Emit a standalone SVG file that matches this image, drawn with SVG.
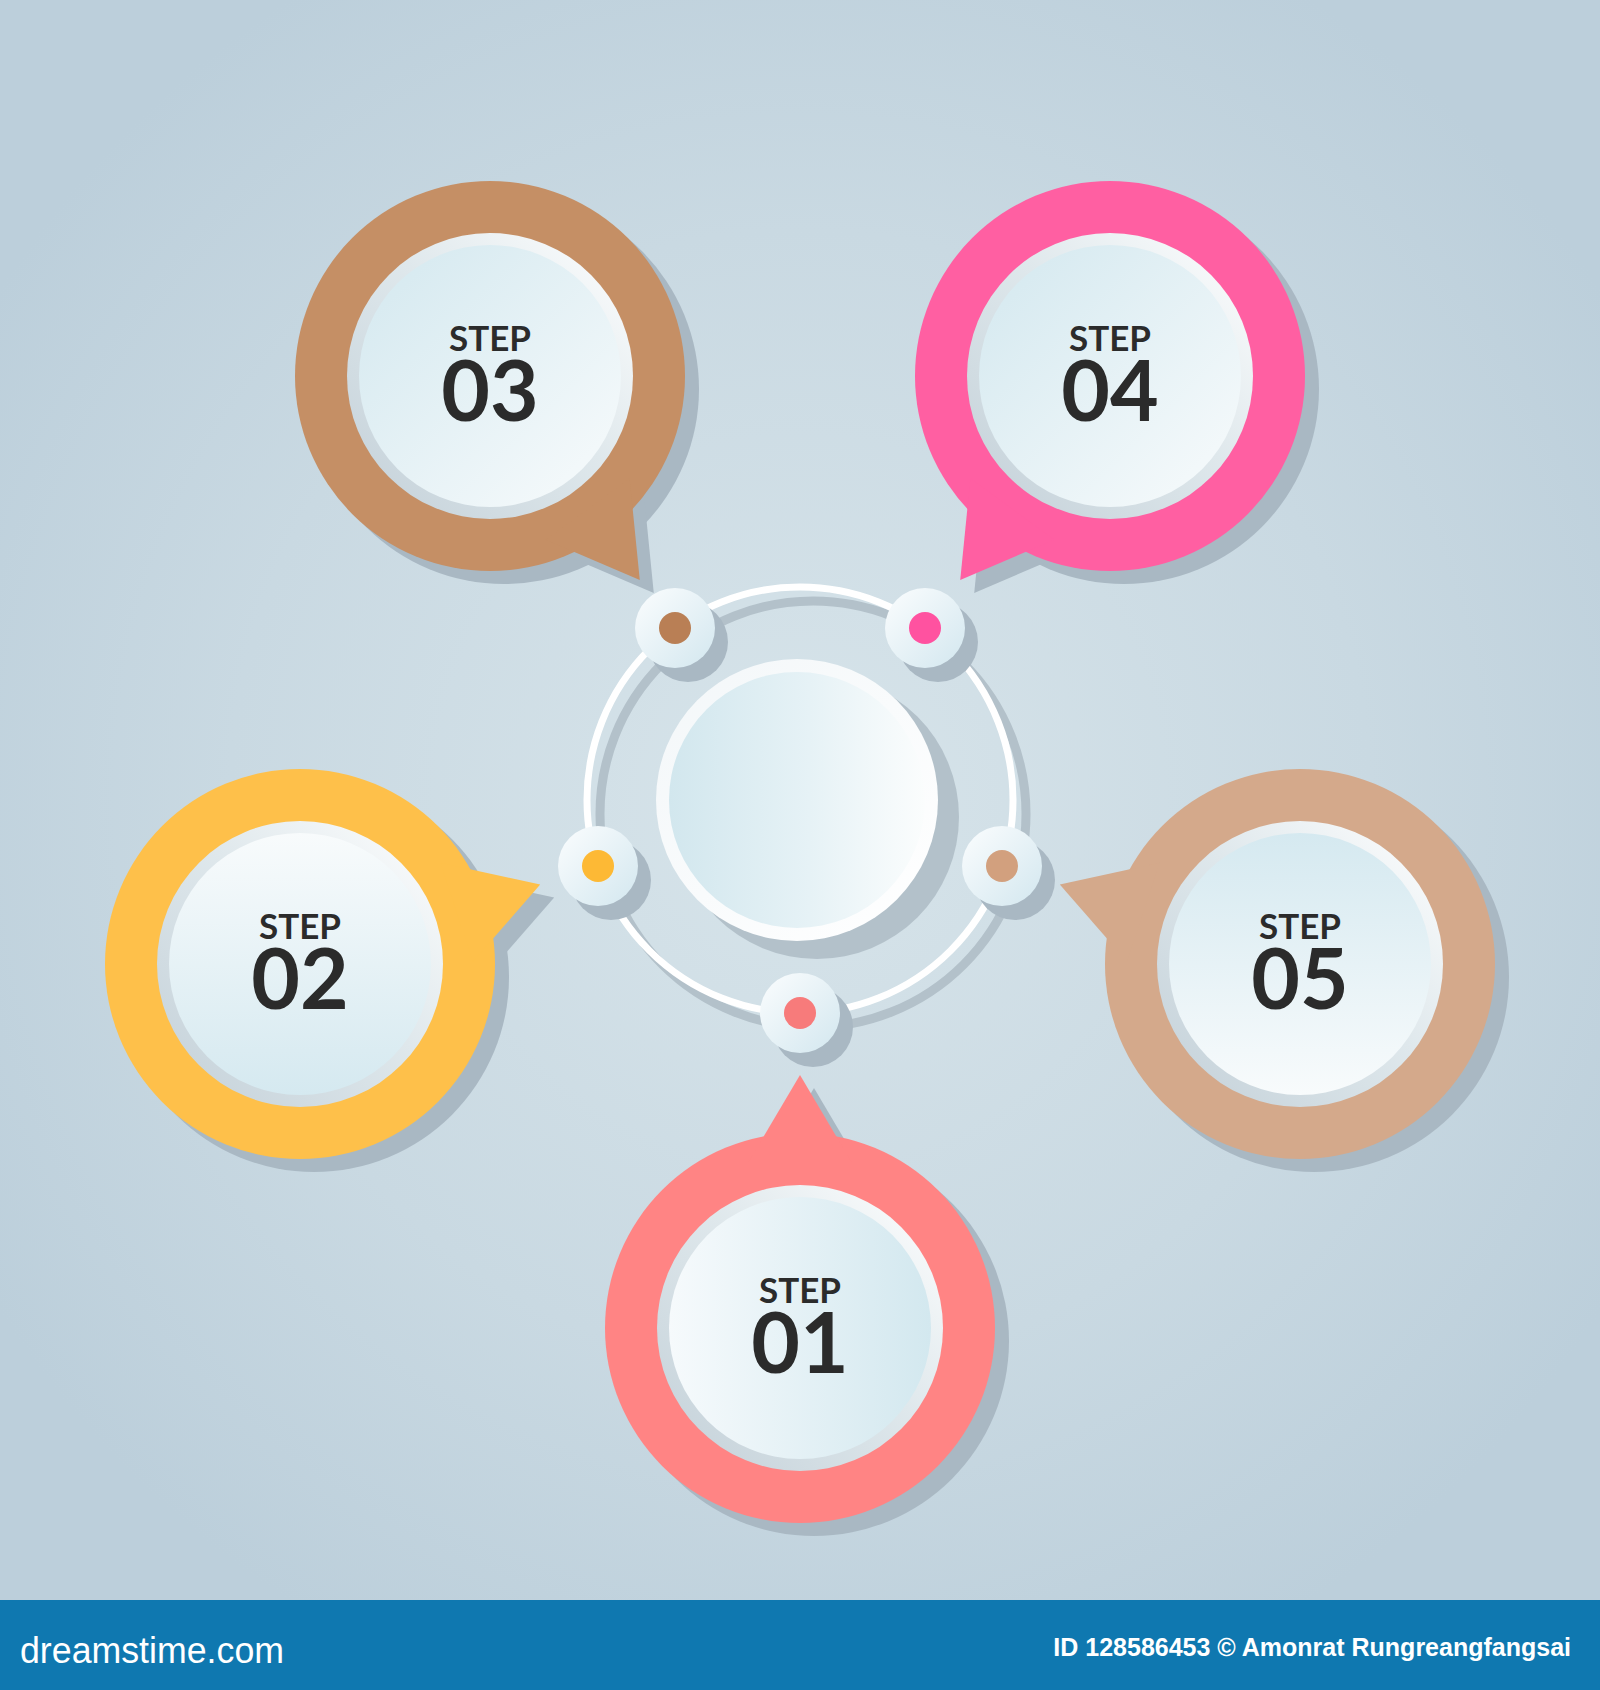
<svg xmlns="http://www.w3.org/2000/svg" width="1600" height="1690" viewBox="0 0 1600 1690">
  <defs>
    <radialGradient id="bg" cx="800" cy="800" r="950" gradientUnits="userSpaceOnUse">
      <stop offset="0" stop-color="#d7e4ea"/>
      <stop offset="0.6" stop-color="#c9d9e2"/>
      <stop offset="1" stop-color="#bccfdb"/>
    </radialGradient>
    <linearGradient id="rim" x1="0" y1="1" x2="1" y2="0">
      <stop offset="0" stop-color="#c3d0d8"/>
      <stop offset="0.55" stop-color="#dfe8ec"/>
      <stop offset="1" stop-color="#ffffff"/>
    </linearGradient>
    <linearGradient id="faceH" x1="0" y1="0" x2="1" y2="0">
      <stop offset="0" stop-color="#f6fafc"/>
      <stop offset="1" stop-color="#d3e8ef"/>
    </linearGradient>
    <linearGradient id="faceV" x1="0" y1="0" x2="0" y2="1">
      <stop offset="0" stop-color="#d5e9f0"/>
      <stop offset="1" stop-color="#f8fbfc"/>
    </linearGradient>
    <linearGradient id="faceD" x1="0" y1="0" x2="1" y2="1">
      <stop offset="0" stop-color="#d3e8ef"/>
      <stop offset="1" stop-color="#f8fbfc"/>
    </linearGradient>
    <linearGradient id="hubFace" x1="0" y1="0" x2="1" y2="0">
      <stop offset="0" stop-color="#d2e7ee"/>
      <stop offset="0.55" stop-color="#e6f2f6"/>
      <stop offset="1" stop-color="#fbfdfd"/>
    </linearGradient>
    <linearGradient id="hubRim" x1="0" y1="0" x2="1" y2="1">
      <stop offset="0" stop-color="#f3f7f9"/>
      <stop offset="1" stop-color="#ffffff"/>
    </linearGradient>
    <linearGradient id="nodeFace" x1="0" y1="0" x2="1" y2="1">
      <stop offset="0" stop-color="#fbfdfe"/>
      <stop offset="1" stop-color="#d3e7ef"/>
    </linearGradient>
    <path id="tail" d="M253 0 L165 -52 L165 52 Z"/>
  </defs>
  <style>
    .step { font-family: Lato, "Liberation Sans", sans-serif; font-weight: 700; font-size: 35px; fill: #2b2b2b; text-anchor: middle; }
    .num { font-family: Lato, "Liberation Sans", sans-serif; font-weight: 700; font-size: 84px; fill: #2b2b2b; text-anchor: middle; }
    .shadow { fill: #a9b8c3; }
    .footer { font-family: "Liberation Sans", Arial, sans-serif; fill: #ffffff; }
  </style>

  <rect width="1600" height="1690" fill="url(#bg)"/>

  <!-- STEP 03 -->
  <g id="step-03" transform="translate(490,376)">
    <g class="shadow" transform="translate(14,13)">
      <circle r="195"/><use href="#tail" transform="rotate(53.7)"/>
    </g>
    <g fill="#c58f65">
      <circle r="195"/><use href="#tail" transform="rotate(53.7)"/>
    </g>
    <circle r="143" fill="url(#rim)"/>
    <circle r="131" fill="url(#faceD)"/>
    <text class="step" y="-25">STEP</text>
    <text class="num" y="45">03</text>
  </g>

  <!-- STEP 04 -->
  <g id="step-04" transform="translate(1110,376)">
    <g class="shadow" transform="translate(14,13)">
      <circle r="195"/><use href="#tail" transform="rotate(126.3)"/>
    </g>
    <g fill="#ff5fa2">
      <circle r="195"/><use href="#tail" transform="rotate(126.3)"/>
    </g>
    <circle r="143" fill="url(#rim)"/>
    <circle r="131" fill="url(#faceD)"/>
    <text class="step" y="-25">STEP</text>
    <text class="num" y="45">04</text>
  </g>

  <!-- STEP 02 -->
  <g id="step-02" transform="translate(300,964)">
    <g class="shadow" transform="translate(14,13)">
      <circle r="195"/><use href="#tail" transform="rotate(-18.3)"/>
    </g>
    <g fill="#fec04a">
      <circle r="195"/><use href="#tail" transform="rotate(-18.3)"/>
    </g>
    <circle r="143" fill="url(#rim)"/>
    <circle r="131" fill="url(#faceV)" transform="rotate(180)"/>
    <text class="step" y="-25">STEP</text>
    <text class="num" y="45">02</text>
  </g>

  <!-- STEP 05 -->
  <g id="step-05" transform="translate(1300,964)">
    <g class="shadow" transform="translate(14,13)">
      <circle r="195"/><use href="#tail" transform="rotate(198.3)"/>
    </g>
    <g fill="#d4a98b">
      <circle r="195"/><use href="#tail" transform="rotate(198.3)"/>
    </g>
    <circle r="143" fill="url(#rim)"/>
    <circle r="131" fill="url(#faceV)"/>
    <text class="step" y="-25">STEP</text>
    <text class="num" y="45">05</text>
  </g>

  <!-- STEP 01 -->
  <g id="step-01" transform="translate(800,1328)">
    <g class="shadow" transform="translate(14,13)">
      <circle r="195"/><use href="#tail" transform="rotate(-90)"/>
    </g>
    <g fill="#ff8484">
      <circle r="195"/><use href="#tail" transform="rotate(-90)"/>
    </g>
    <circle r="143" fill="url(#rim)"/>
    <circle r="131" fill="url(#faceH)"/>
    <text class="step" y="-25">STEP</text>
    <text class="num" y="45">01</text>
  </g>

  <!-- connectors: ring around hub -->
  <g id="connectors" fill="none">
    <circle cx="813" cy="814" r="213" stroke="#b3c1ca" stroke-width="9"/>
    <circle cx="800" cy="800" r="213" stroke="#ffffff" stroke-width="7"/>
  </g>

  <!-- hub -->
  <g id="hub">
    <circle cx="817" cy="817" r="142" fill="#b3c1ca"/>
    <circle cx="797" cy="800" r="141" fill="url(#hubRim)"/>
    <circle cx="797" cy="800" r="128" fill="url(#hubFace)"/>
  </g>

  <!-- ring nodes -->
  <g id="node-03" transform="translate(675,628)">
    <circle cx="13" cy="14" r="40" class="shadow"/>
    <circle r="40" fill="url(#nodeFace)"/>
    <circle r="16" fill="#b97f55"/>
  </g>
  <g id="node-04" transform="translate(925,628)">
    <circle cx="13" cy="14" r="40" class="shadow"/>
    <circle r="40" fill="url(#nodeFace)"/>
    <circle r="16" fill="#ff52a0"/>
  </g>
  <g id="node-02" transform="translate(598,866)">
    <circle cx="13" cy="14" r="40" class="shadow"/>
    <circle r="40" fill="url(#nodeFace)"/>
    <circle r="16" fill="#fdb935"/>
  </g>
  <g id="node-05" transform="translate(1002,866)">
    <circle cx="13" cy="14" r="40" class="shadow"/>
    <circle r="40" fill="url(#nodeFace)"/>
    <circle r="16" fill="#d2a07e"/>
  </g>
  <g id="node-01" transform="translate(800,1013)">
    <circle cx="13" cy="14" r="40" class="shadow"/>
    <circle r="40" fill="url(#nodeFace)"/>
    <circle r="16" fill="#f77b7b"/>
  </g>

  <!-- footer bar -->
  <g id="footer">
    <rect x="0" y="1600" width="1600" height="90" fill="#0f78b0"/>
    <text class="footer" x="20" y="1663" font-size="36" textLength="264" lengthAdjust="spacingAndGlyphs" font-family="DejaVu Sans, sans-serif">dreamstime.com</text>
    <text class="footer" x="1571" y="1656" font-size="25" font-weight="700" text-anchor="end">ID 128586453 © Amonrat Rungreangfangsai</text>
  </g>
</svg>
